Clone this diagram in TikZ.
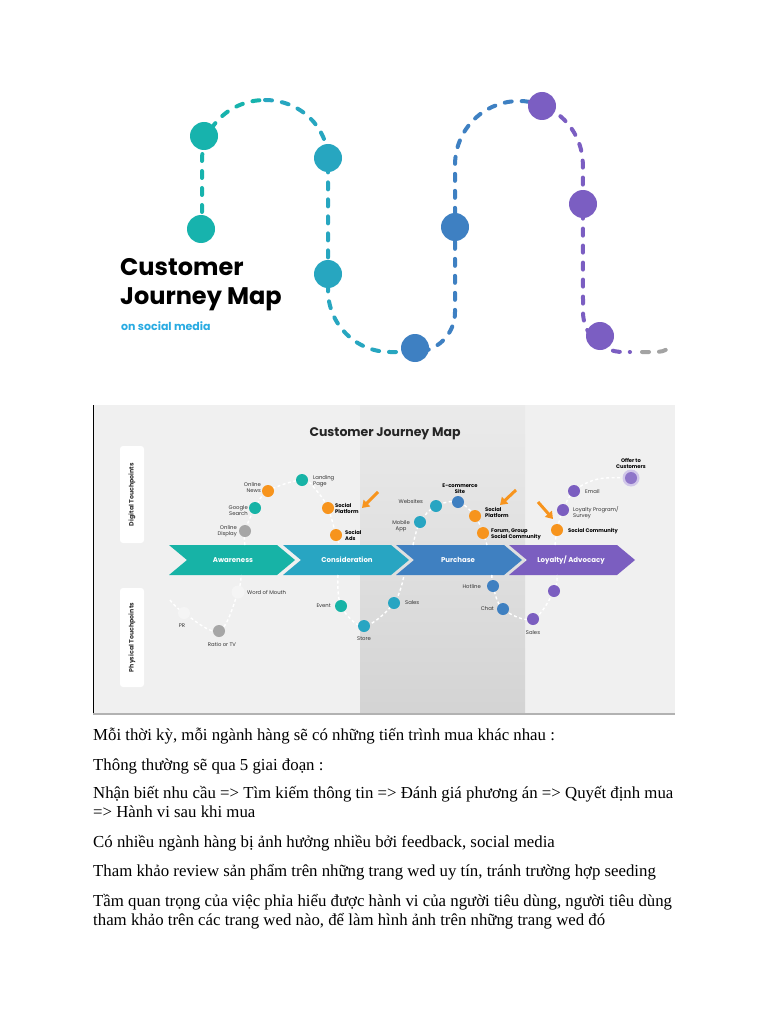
\documentclass[tikz,border=0pt]{standalone}
\usepackage{fontspec}
\setmainfont{Liberation Serif}
\newfontfamily\pop{Poppins}
\usetikzlibrary{arrows.meta}
\definecolor{tA}{HTML}{17B3AD}
\definecolor{tB}{HTML}{27A6C0}
\definecolor{tC}{HTML}{3E80C2}
\definecolor{tD}{HTML}{7B5EC2}
\definecolor{tE}{HTML}{A3A3A3}
\definecolor{ctitle}{HTML}{29ABE2}
\definecolor{cteal}{HTML}{17B3A6}
\definecolor{cteal2}{HTML}{28A5C2}
\definecolor{cblue}{HTML}{3F80C1}
\definecolor{cpurp}{HTML}{7B5EC0}
\definecolor{corange}{HTML}{F7941D}
\definecolor{cgray}{HTML}{A6A6A6}
\definecolor{panel}{HTML}{F0F0F0}
\definecolor{ltxt}{HTML}{333333}
\tikzset{
  topdash/.style={line width=4pt, dash pattern=on 7pt off 10pt, line cap=round},
  bigdot/.style={circle, minimum size=28pt, inner sep=0pt},
  dot/.style={circle, minimum size=12pt, inner sep=0pt},
  wdash/.style={white, line width=1.4pt, dash pattern=on 3pt off 2.5pt},
  lbl/.style={font=\pop\fontsize{5.3}{6}\selectfont, text=ltxt, inner sep=0pt},
  blbl/.style={font=\pop\bfseries\fontsize{5.2}{6}\selectfont, text=black, inner sep=0pt},
  chevlbl/.style={font=\pop\bfseries\fontsize{7}{8}\selectfont, text=white, inner sep=0pt},
  wbox/.style={fill=white, rounded corners=3pt, inner sep=0pt, font=\pop\bfseries\fontsize{6.3}{7}\selectfont, text=ltxt},
  body/.style={font=\fontsize{16.8}{19}\selectfont, anchor=base west, inner sep=0pt},
  oarrow/.style={draw=corange, line width=3pt, -{Triangle[length=7pt,width=9pt]}}
}
\begin{document}
\begin{tikzpicture}[x=1pt,y=-1pt]
\useasboundingbox (0,0) rectangle (768,1024);
\fill[white] (0,0) rectangle (768,1024);

% ---------- top image: dashed journey ----------
\draw[topdash, tA] (202,229) -- (202,160) arc[start angle=180, end angle=270, x radius=63, y radius=60];
\draw[topdash, tB] (265,100) arc[start angle=270, end angle=360, x radius=63, y radius=60] -- (328,290) arc[start angle=180, end angle=90, radius=62] -- (398,352);
\draw[topdash, tC] (405,352) -- (415,352) arc[start angle=90, end angle=0, radius=40] -- (455,165) arc[start angle=180, end angle=280, radius=64];
\draw[topdash, tD] (530,101.9) arc[start angle=280, end angle=360, radius=64] -- (583,312) arc[start angle=180, end angle=90, radius=40] -- (630,352);
\draw[topdash, tE] (642,352) -- (652,352) .. controls (662,352) .. (673,346);

\node[bigdot, fill=tA] (d1) at (204,136) {};
\node[bigdot, fill=tA] (d2) at (201,229) {};
\node[bigdot, fill=tB] (d3) at (328,158) {};
\node[bigdot, fill=tB] (d4) at (328,274) {};
\node[bigdot, fill=tC] (d5) at (415,348) {};
\node[bigdot, fill=tC] (d6) at (455,227) {};
\node[bigdot, fill=tD] (d7) at (542,106) {};
\node[bigdot, fill=tD] (d8) at (583,204) {};
\node[bigdot, fill=tD] (d9) at (600,336) {};

\node[font=\pop\bfseries\fontsize{24}{29}\selectfont, anchor=base west, inner sep=0pt, align=left] (ttl1) at (120,275) {Customer};
\node[font=\pop\bfseries\fontsize{24}{29}\selectfont, anchor=base west, inner sep=0pt, align=left] (ttl2) at (120,304) {Journey Map};
\node[font=\pop\bfseries\fontsize{11}{13}\selectfont, text=ctitle, anchor=base west, inner sep=0pt] (ttl3) at (121,330) {on social media};

% ---------- chart ----------
\fill[panel] (93,405) rectangle (675,713);
\shade[top color=panel, bottom color=black!6] (93,560) rectangle (360,713);
\shade[top color=black!8, bottom color=black!17] (360,405) rectangle (525,713);
\draw[black, line width=1.5pt] (93.7,405) -- (93.7,714);
\draw[black!30, line width=2pt] (93,713.5) -- (675,713.5);

\node[font=\pop\bfseries\fontsize{12.5}{14}\selectfont, text=black!85] (ctitle) at (385,434) {Customer Journey Map};

\node[wbox, rotate=90, minimum width=97pt, minimum height=24pt] (dbox) at (132,494.5) {Digital Touchpoints};
\node[wbox, rotate=90, minimum width=99pt, minimum height=24pt] (pbox) at (132,637.5) {Physical Touchpoints};

% chevrons
\fill[cteal]  (169,545) -- (277,545) -- (295,560) -- (277,575) -- (169,575) -- (187,560) -- cycle;
\fill[cteal2] (283,545) -- (391,545) -- (409,560) -- (391,575) -- (283,575) -- (301,560) -- cycle;
\fill[cblue]  (396,545) -- (504,545) -- (522,560) -- (504,575) -- (396,575) -- (414,560) -- cycle;
\fill[cpurp]  (509,545) -- (617,545) -- (635,560) -- (617,575) -- (509,575) -- (527,560) -- cycle;
\node[chevlbl] (aw) at (233,560) {Awareness};
\node[chevlbl] (co) at (347,560) {Consideration};
\node[chevlbl] (pu) at (458,560) {Purchase};
\node[chevlbl] (lo) at (571,560) {Loyalty/ Advocacy};

% anchor coordinates on chevrons
\coordinate (a1) at (245,545);
\coordinate (a2) at (340,545);
\coordinate (a3) at (413,545);
\coordinate (a4) at (487,545);
\coordinate (a5) at (555,545);
\coordinate (b1) at (241,575);
\coordinate (b2) at (338,575);
\coordinate (b3) at (404,575);
\coordinate (b4) at (492,575);
\coordinate (b5) at (557,575);
\coordinate (lft1) at (170,600);

% digital dots
\coordinate (on) at (268,491);
\coordinate (gs) at (255,508);
\coordinate (od) at (245,531);
\coordinate (lp) at (302,480);
\coordinate (sp1) at (328,508);
\coordinate (sa) at (336,535);
\coordinate (ma) at (420,522);
\coordinate (ws) at (436,506);
\coordinate (ec) at (458,502);
\coordinate (sp2) at (475,516);
\coordinate (fg) at (483,533);
\coordinate (sc) at (557,530);
\coordinate (lps) at (563,510);
\coordinate (em) at (574,491);
\coordinate (of) at (631,478);
% physical dots
\coordinate (wm) at (238,592);
\coordinate (pr) at (184,613);
\coordinate (rt) at (219,631);
\coordinate (ev) at (341,606);
\coordinate (st) at (364,626);
\coordinate (sl1) at (394,603);
\coordinate (ho) at (493,586);
\coordinate (ch) at (503,609);
\coordinate (sl2) at (533,619);
\coordinate (pp) at (554,591);

% white dashed paths
\draw[wdash] plot[smooth, tension=0.6] coordinates {(a1) (od) (gs) (on) (lp) (316,490) (sp1) (sa) (a2)};
\draw[wdash] plot[smooth, tension=0.6] coordinates {(a3) (ma) (ws) (ec) (sp2) (fg) (a4)};
\draw[wdash] plot[smooth, tension=0.6] coordinates {(a5) (sc) (lps) (em) (598,479) (of)};
\draw[wdash] plot[smooth, tension=0.6] coordinates {(lft1) (pr) (rt) (wm) (b1)};
\draw[wdash] plot[smooth, tension=0.6] coordinates {(b2) (ev) (st) (sl1) (b3)};
\draw[wdash] plot[smooth, tension=0.6] coordinates {(b4) (ho) (ch) (sl2) (pp) (b5)};

% dots
\node[dot, fill=corange] (non) at (on) {};
\node[dot, fill=cteal] (ngs) at (gs) {};
\node[dot, fill=cgray] (nod) at (od) {};
\node[dot, fill=cteal] (nlp) at (lp) {};
\node[dot, fill=corange] (nsp1) at (sp1) {};
\node[dot, fill=corange] (nsa) at (sa) {};
\node[dot, fill=cteal2] (nma) at (ma) {};
\node[dot, fill=cteal2] (nws) at (ws) {};
\node[dot, fill=cblue] (nec) at (ec) {};
\node[dot, fill=corange] (nsp2) at (sp2) {};
\node[dot, fill=corange] (nfg) at (fg) {};
\node[dot, fill=corange] (nsc) at (sc) {};
\node[dot, fill=cpurp] (nlps) at (lps) {};
\node[dot, fill=cpurp] (nem) at (em) {};
\node[circle, minimum size=17pt, inner sep=0pt, fill=cpurp!35] (glow) at (of) {};
\node[dot, fill=cpurp!85] (nof) at (of) {};
\node[dot, fill=white!96!black, minimum size=13pt] (nwm) at (wm) {};
\node[dot, fill=white!96!black] (npr) at (pr) {};
\node[dot, fill=cgray] (nrt) at (rt) {};
\node[dot, fill=cteal] (nev) at (ev) {};
\node[dot, fill=cteal2] (nst) at (st) {};
\node[dot, fill=cteal2] (nsl1) at (sl1) {};
\node[dot, fill=cblue] (nho) at (ho) {};
\node[dot, fill=cblue] (nch) at (ch) {};
\node[dot, fill=cpurp] (nsl2) at (sl2) {};
\node[dot, fill=cpurp] (npp) at (pp) {};

% labels digital
\node[lbl, anchor=east, align=right] (lon) at (261,488) {Online\\News};
\node[lbl, anchor=east, align=right] (lgs) at (248,511) {Google\\Search};
\node[lbl, anchor=east, align=right] (lod) at (237,531) {Online\\Display};
\node[lbl, anchor=west, align=left] (llp) at (313,481) {Landing\\Page};
\node[blbl, anchor=west, align=left] (lsp1) at (335,508.5) {Social\\Platform};
\node[blbl, anchor=west, align=left] (lsa) at (345,535.5) {Social\\Ads};
\node[lbl, anchor=east] (lws) at (423,502) {Websites};
\node[lbl, anchor=east, align=center] (lma) at (410,526) {Mobile\\App};
\node[blbl, align=center] (lec) at (460,489) {E-commerce\\Site};
\node[blbl, anchor=west, align=left] (lsp2) at (485,512.5) {Social\\Platform};
\node[blbl, anchor=west, align=left] (lfg) at (491,534.5) {Forum, Group\\Social Community};
\node[blbl, anchor=west] (lsc) at (568,531) {Social Community};
\node[lbl, anchor=west, align=left] (llps) at (573,513) {Loyalty Program/\\Survey};
\node[lbl, anchor=west] (lem) at (585,492) {Email};
\node[blbl, align=center] (lof) at (631,463.5) {Offer to\\Customers};
% labels physical
\node[lbl, anchor=west] (lwm) at (247,592) {Word of Mouth};
\node[lbl] (lpr) at (182,626) {PR};
\node[lbl] (lrt) at (222,644) {Ratio or TV};
\node[lbl, anchor=east] (lev) at (331,606) {Event};
\node[lbl] (lst) at (364,639) {Store};
\node[lbl, anchor=west] (lsl1) at (405,603) {Sales};
\node[lbl, anchor=east] (lho) at (481,587) {Hotline};
\node[lbl, anchor=east] (lch) at (494,609) {Chat};
\node[lbl] (lsl2) at (533,633) {Sales};

% orange arrows
\coordinate (o1s) at (378,492);
\coordinate (o1e) at (362,508);
\coordinate (o2s) at (516,490);
\coordinate (o2e) at (500,505);
\coordinate (o3s) at (538,502);
\coordinate (o3e) at (553,519);
\draw[oarrow] (o1s) -- (o1e);
\draw[oarrow] (o2s) -- (o2e);
\draw[oarrow] (o3s) -- (o3e);

% ---------- body text ----------
\node[body] (t1) at (93,740) {Mỗi thời kỳ, mỗi ngành hàng sẽ có những tiến trình mua khác nhau :};
\node[body] (t2) at (93,770) {Thông thường sẽ qua 5 giai đoạn :};
\node[body] (t3) at (93,798) {Nhận biết nhu cầu => Tìm kiếm thông tin => Đánh giá phương án => Quyết định mua};
\node[body] (t4) at (93,817) {=> Hành vi sau khi mua};
\node[body] (t5) at (93,847) {Có nhiều ngành hàng bị ảnh hưởng nhiều bởi feedback, social media};
\node[body] (t6) at (93,876) {Tham khảo review sản phẩm trên những trang wed uy tín, tránh trường hợp seeding};
\node[body] (t7) at (93,906) {Tầm quan trọng của việc phỉa hiểu được hành vi của người tiêu dùng, người tiêu dùng};
\node[body] (t8) at (93,925) {tham khảo trên các trang wed nào, để làm hình ảnh trên những trang wed đó};
\end{tikzpicture}
\end{document}
